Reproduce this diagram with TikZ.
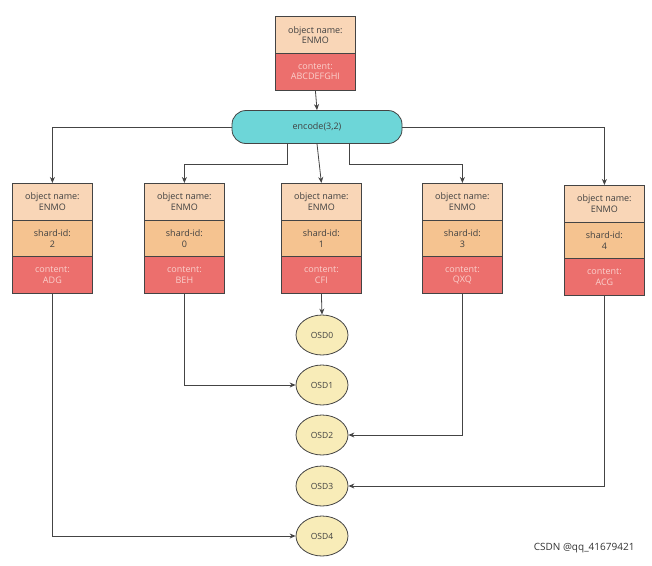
\documentclass[tikz,border=0pt]{standalone}
\usepackage{fontspec}
\setmainfont{Open Sans}
\definecolor{peach}{HTML}{F9D6B7}
\definecolor{orng}{HTML}{F5C390}
\definecolor{redc}{HTML}{EC6F6D}
\definecolor{pinkt}{HTML}{FAD0CC}
\definecolor{cyanc}{HTML}{6DD6D8}
\definecolor{osdc}{HTML}{F8ECB8}
\definecolor{ln}{HTML}{444444}
\begin{document}
\begin{tikzpicture}[x=1pt,y=-1pt,font=\fontsize{9}{10.5}\selectfont,
 cell/.style={draw=ln,line width=0.8pt,minimum width=80pt,minimum height=36.7pt,inner sep=0pt,align=center,anchor=north west,text=black!75},
 nm/.style={cell,fill=peach},
 sid/.style={cell,fill=orng},
 ct/.style={cell,fill=redc,text=pinkt},
 osd/.style={draw=ln,line width=0.8pt,fill=osdc,ellipse,minimum width=52pt,minimum height=40pt,inner sep=0pt,font=\fontsize{8.5}{10}\selectfont,text=black!75},
 ar/.style={draw=ln,line width=0.8pt,-{Stealth[length=6pt,width=5pt]}}]
\usetikzlibrary{shapes.geometric,arrows.meta}
\useasboundingbox (0,0) rectangle (652,565);
\node[nm,minimum height=37pt] (tn) at (275,16) {object name:\\ENMO};
\node[ct] (tc) at (275,53) {content:\\ABCDEFGHI};
\node[draw=ln,line width=0.8pt,fill=cyanc,rounded corners=14pt,minimum width=170pt,minimum height=33pt,text=black!75] (enc) at (317,127) {encode(3,2)};
\foreach \n/\x/\y/\s/\c in {a/12/183/2/ADG, b/144/183/0/BEH, c/281/183/1/CFI, d/422/183/3/QXQ, e/564/185/4/ACG}{
 \node[nm] (\n1) at (\x,\y) {object name:\\ENMO};
 \node[sid] (\n2) at (\x,\y+36.7) {shard-id:\\\s};
 \node[ct] (\n3) at (\x,\y+73.4) {content:\\\c};
}
\foreach \i/\y in {0/335,1/385,2/435,3/486,4/536}{\node[osd] (o\i) at (322,\y) {OSD\i};}
\draw[ar] (tc.south) -- (enc.north);
\draw[ar] (enc.west) -| (a1.north);
\draw[ar] (enc.east) -| (e1.north);
\draw[ar] (enc.south) -- (c1.north);
\draw[ar] ([xshift=-30pt]enc.south) |- ++(0,20) -| (b1.north);
\draw[ar] ([xshift=32pt]enc.south) |- ++(0,20) -| (d1.north);
\draw[ar] (c3.south) -- (o0.north);
\draw[ar] (b3.south) |- (o1.west);
\draw[ar] (d3.south) |- (o2.east);
\draw[ar] (e3.south) |- (o3.east);
\draw[ar] (a3.south) |- (o4.west);
\node[anchor=east,font=\fontsize{10}{12}\selectfont,text=black!80] at (638,548) {CSDN @qq\_41679421};
\end{tikzpicture}
\end{document}
